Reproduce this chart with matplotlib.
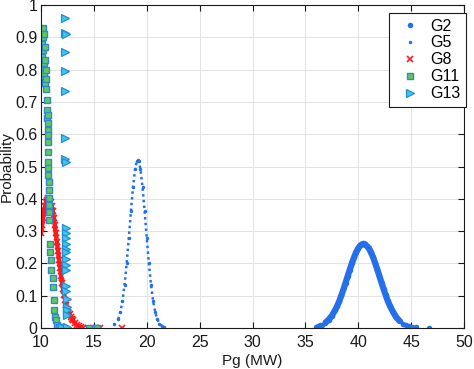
#!/usr/bin/env python3
# -*- coding: utf-8 -*-
"""
Generator output probability curves (G2, G5, G8, G11, G13) vs. Pg (MW).
Values were read off the reference picture by eye.
"""

import matplotlib
matplotlib.use("Agg")
import matplotlib.pyplot as plt

# ============== DATA ============== #
# G2 - wide bump around 40.5 MW
g2_x = [36.9, 37.2, 37.5, 37.8, 38.0, 38.2, 38.4, 38.6, 38.8, 39.0, 39.2, 39.4,
        39.6, 39.8, 40.0, 40.2, 40.4, 40.5, 40.6, 40.8, 41.0, 41.2, 41.4, 41.6,
        41.8, 42.0, 42.2, 42.4, 42.6, 42.8, 43.0, 43.3, 43.6, 43.9]
g2_y = [0.017, 0.026, 0.038, 0.055, 0.068, 0.083, 0.101, 0.120, 0.140, 0.161,
        0.181, 0.201, 0.219, 0.235, 0.247, 0.256, 0.260, 0.261, 0.260, 0.254,
        0.247, 0.234, 0.219, 0.201, 0.181, 0.161, 0.140, 0.120, 0.101, 0.083,
        0.068, 0.049, 0.033, 0.022]
g2_tail_x = [36.0, 36.2, 36.4, 36.6, 44.2, 44.5, 44.8, 45.1, 45.5, 46.7]
g2_tail_y = [0.004, 0.005, 0.008, 0.010, 0.013, 0.009, 0.006, 0.004, 0.002, 0.001]

# G5 - narrow bump around 19.1 MW
g5_x = [17.3, 17.5, 17.7, 17.9, 18.1, 18.3, 18.5, 18.7, 18.9, 19.05, 19.15,
        19.25, 19.4, 19.6, 19.8, 20.0, 20.2, 20.4, 20.6, 20.8, 21.0, 21.2,
        21.4, 21.6]
g5_y = [0.027, 0.049, 0.084, 0.134, 0.200, 0.278, 0.361, 0.436, 0.493, 0.516,
        0.520, 0.516, 0.493, 0.436, 0.361, 0.278, 0.200, 0.134, 0.084, 0.049,
        0.027, 0.014, 0.007, 0.003]
g5_tail_x = [16.9]
g5_tail_y = [0.013]

# G8 - bump near 10.7 MW
g8_x = [10.0, 10.1, 10.2, 10.3, 10.4, 10.5, 10.6, 10.7, 10.8, 10.9, 11.0, 11.1,
        11.2, 11.3, 11.4, 11.5, 11.6, 11.7, 11.8, 11.9, 12.0, 12.1, 12.2, 12.3,
        12.4, 12.5, 12.6, 12.7, 12.8, 12.9, 13.0, 13.2, 13.4, 13.6, 13.8]
g8_y = [0.295, 0.318, 0.342, 0.362, 0.378, 0.390, 0.397, 0.402, 0.398, 0.390,
        0.378, 0.362, 0.342, 0.318, 0.293, 0.267, 0.240, 0.212, 0.186, 0.161,
        0.140, 0.120, 0.102, 0.086, 0.072, 0.060, 0.050, 0.042, 0.035, 0.029,
        0.024, 0.015, 0.009, 0.005, 0.003]
g8_tail_x = [14.0, 14.4, 15.2, 15.6, 17.7]
g8_tail_y = [0.001, 0.0, 0.0, 0.0, 0.0]

# G11 - high values near 10 MW dropping fast
g11_x = [10.0, 10.0, 10.05, 10.05, 10.1, 10.15, 10.2, 10.2, 10.25, 10.1, 10.3,
         10.35, 10.4, 10.35, 10.3, 10.45, 10.45, 10.5, 10.57, 10.57, 10.6,
         10.65, 10.68, 10.69, 10.69, 10.69, 10.7, 10.7, 10.7, 10.7, 10.72,
         10.72, 10.74, 10.76, 10.78, 10.8, 10.85, 10.85, 10.9, 10.95, 11.1,
         11.12, 11.2, 11.26, 11.32, 11.4, 11.5, 11.7, 11.85, 12.0, 12.1, 14.5,
         15.1, 15.3]
g11_y = [0.76, 0.80, 0.84, 0.88, 0.92, 0.93, 0.90, 0.86, 0.82, 0.78, 0.79,
         0.76, 0.83, 0.87, 0.91, 0.80, 0.77, 0.74, 0.706, 0.675, 0.65, 0.66,
         0.635, 0.613, 0.597, 0.576, 0.545, 0.514, 0.495, 0.474, 0.452, 0.427,
         0.402, 0.381, 0.359, 0.334, 0.26, 0.235, 0.21, 0.18, 0.155, 0.127,
         0.087, 0.056, 0.035, 0.025, 0.01, 0.004, 0.002, 0.001, 0.0, 0.0, 0.0,
         0.0]

# G13 - one column of points near 12.3 MW
g13_x = [12.3, 12.3, 12.32, 12.3, 12.3, 12.3, 12.3, 12.3, 12.32, 12.4, 12.4,
         12.4, 12.4, 12.4, 12.4, 12.4, 12.4, 12.4, 12.4, 12.4, 12.45, 12.45,
         12.45, 12.45, 12.0, 12.5]
g13_y = [0.96, 0.915, 0.91, 0.855, 0.795, 0.735, 0.59, 0.525, 0.515, 0.31,
         0.295, 0.28, 0.26, 0.245, 0.235, 0.215, 0.195, 0.18, 0.13, 0.115,
         0.09, 0.065, 0.055, 0.04, 0.002, 0.002]

# ============== STYLE ============== #
BLUE = "#2570ea"
RED = "#ff1a1a"
GREEN = "#62cc4a"
SQ_EDGE = "#2f86e0"
CYAN = "#45c3ee"
TRI_EDGE = "#1f8fd6"
INK = "#1a1a1a"


def main() -> None:
    plt.rcParams["font.family"] = ["Liberation Sans", "DejaVu Sans"]
    fig = plt.figure(figsize=(4.74, 3.69), dpi=100)
    ax = fig.add_axes([0.0865, 0.111, 0.8925, 0.875])

    # G2: thick band of circles (line underneath fills the gaps)
    ax.plot(g2_x, g2_y, "-", color=BLUE, lw=4.5, solid_capstyle="round")
    ax.plot(g2_x + g2_tail_x, g2_y + g2_tail_y, "o", color=BLUE, ms=4,
            mew=0, label="G2")

    # G5: small dots
    ax.plot(g5_x, g5_y, ls=(0, (1.0, 1.3)), color=BLUE, lw=1.8)
    ax.plot(g5_x + g5_tail_x, g5_y + g5_tail_y, ".", color=BLUE, ms=3,
            label="G5")

    # G8: red crosses, dense band
    ax.plot(g8_x, g8_y, "-", color=RED, lw=3.2)
    ax.plot(g8_x + g8_tail_x, g8_y + g8_tail_y, "x", color=RED, ms=4,
            mew=1.2, label="G8")

    # G11: green squares with blue edge
    ax.plot(g11_x, g11_y, "s", mfc=GREEN, mec=SQ_EDGE, ms=4, mew=1.0,
            ls="none", label="G11")

    # G13: cyan triangles
    ax.plot(g13_x, g13_y, ">", mfc=CYAN, mec=TRI_EDGE, ms=5.5, mew=0.9,
            ls="none", label="G13")

    ax.set_xlim(10, 50)
    ax.set_ylim(0, 1)
    ax.set_xticks(range(10, 51, 5))
    ax.set_yticks([i / 10 for i in range(11)])
    ax.set_yticklabels(["0", "0.1", "0.2", "0.3", "0.4", "0.5", "0.6", "0.7",
                        "0.8", "0.9", "1"])
    ax.tick_params(direction="in", top=True, right=True, labelsize=11.5,
                   length=4, width=0.8, colors=INK)
    ax.tick_params(axis="x", pad=5)
    ax.tick_params(axis="y", pad=2.5)
    ax.grid(True, color="#e3e3e3", lw=0.7)
    ax.set_axisbelow(True)
    for sp in ax.spines.values():
        sp.set_color(INK)
        sp.set_linewidth(0.8)

    ax.set_xlabel("Pg (MW)", fontsize=11, color=INK, labelpad=3)
    ax.set_ylabel("Probability", fontsize=11, color=INK, labelpad=1)

    leg = ax.legend(loc="upper right", bbox_to_anchor=(1.005, 0.976),
                    borderaxespad=0, fontsize=11.5, fancybox=False,
                    handlelength=2.0, handletextpad=0.25, labelspacing=0.12,
                    borderpad=0.35, framealpha=1)
    leg.get_frame().set_edgecolor(INK)
    leg.get_frame().set_linewidth(0.8)

    fig.savefig("out.png", dpi=100)


if __name__ == "__main__":
    main()
